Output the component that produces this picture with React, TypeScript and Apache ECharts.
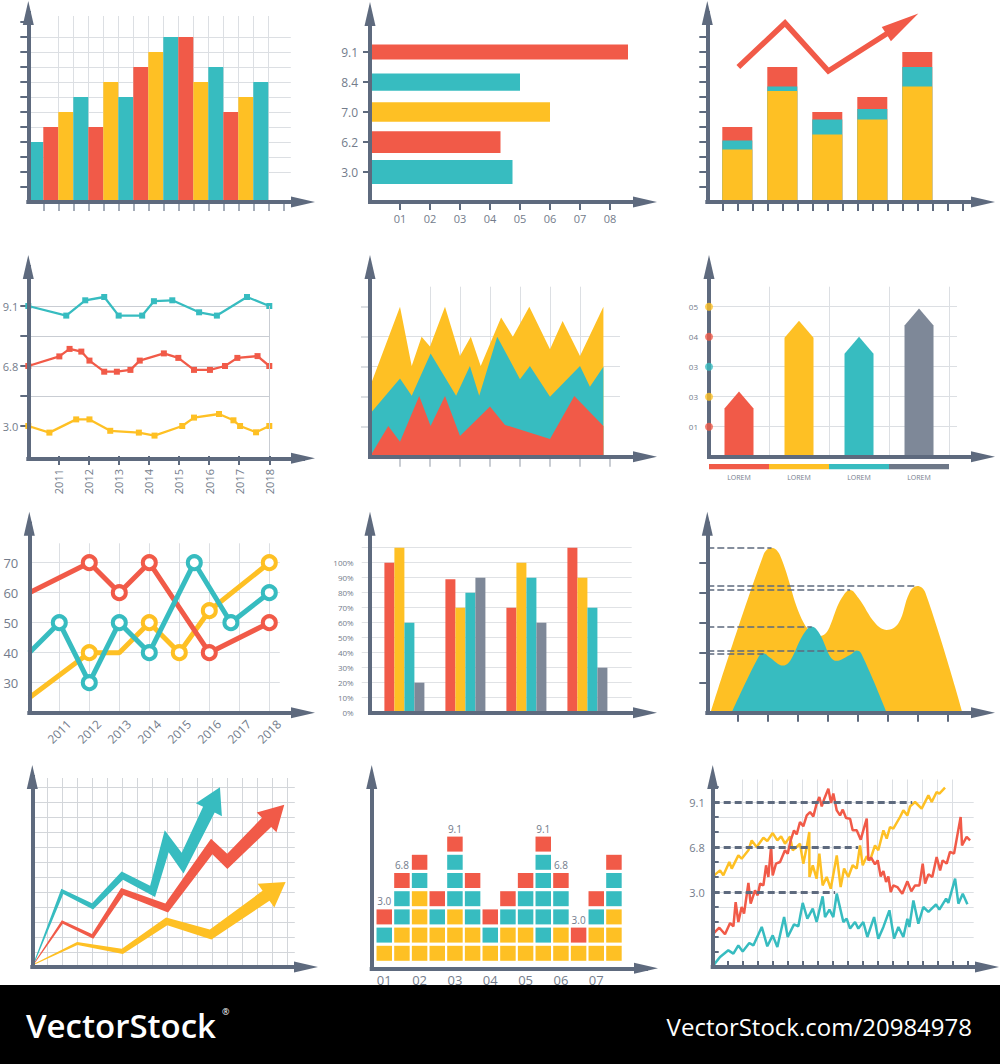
import React, { useEffect, useRef } from "react";
import * as echarts from "echarts";

const RED = "#F15A48";
const YEL = "#FEC024";
const TEAL = "#37BCC0";
const GRAY = "#7E8898";
const AXIS = "#5E6A7E";
const GRIDC = "#DCDFE3";
const TXT = "#737C8B";
const FONT = "Open Sans";

// ---------- Panel 1: bar columns ----------
const p1Values = [4, 5, 6, 7, 5, 8, 7, 9, 10, 11, 11, 8, 9, 6, 7, 8];

// ---------- Panel 2: horizontal bars ----------
const p2Labels = ["3.0", "6.2", "7.0", "8.4", "9.1"];
const p2Values = [4.75, 4.35, 6.0, 5.0, 8.6];
const p2XLabels = ["01", "02", "03", "04", "05", "06", "07", "08"];

// ---------- Panel 3: stacked bars + trend arrow ----------
const p3Pos = [2, 5, 8, 11, 14];
const p3Yellow = [3.5, 7.4, 4.5, 5.5, 7.7];
const p3Teal = [0.6, 0.3, 1.0, 0.7, 1.3];
const p3Red = [0.9, 1.3, 0.5, 0.8, 1.0];
const p3Trend = [[2.07, 9.0], [5.18, 11.93], [8.07, 8.73], [14.07, 12.56]];

// ---------- Panel 4: square-marker lines ----------
const p4Years = [2011, 2012, 2013, 2014, 2015, 2016, 2017, 2018];
const p4LevelLabels = ["", "3.0", "", "6.8", "", "9.1"];
const p4Teal = [[2010, 5.0], [2011.26, 4.68], [2011.89, 5.19], [2012.52, 5.3], [2013.0, 4.68], [2013.78, 4.68], [2014.17, 5.16], [2014.78, 5.19], [2015.67, 4.79], [2016.26, 4.68], [2017.26, 5.3], [2018, 5.0]];
const p4Red = [[2010, 3.0], [2011.03, 3.32], [2011.37, 3.57], [2011.76, 3.48], [2012.03, 3.18], [2012.52, 2.81], [2012.94, 2.81], [2013.39, 2.87], [2013.7, 3.18], [2014.5, 3.42], [2014.98, 3.27], [2015.5, 2.87], [2016.03, 2.87], [2016.53, 3.0], [2016.94, 3.27], [2017.61, 3.33], [2018, 3.0]];
const p4Yellow = [[2010, 1.0], [2010.7, 0.78], [2011.59, 1.22], [2012.03, 1.22], [2012.72, 0.84], [2013.67, 0.78], [2014.19, 0.68], [2015.11, 1.0], [2015.5, 1.28], [2016.33, 1.4], [2016.81, 1.19], [2017.03, 1.0], [2017.56, 0.79], [2018, 1.0]];

// ---------- Panel 5: layered areas ----------
const p5Yellow = [[0.06, 2.5], [1.0, 5.0], [1.39, 3.02], [1.72, 4.0], [2.0, 3.67], [2.5, 5.0], [3.0, 3.36], [3.36, 4.0], [3.69, 3.02], [4.37, 4.64], [4.76, 4.0], [5.31, 5.0], [6.0, 3.58], [6.42, 4.52], [7.0, 3.36], [7.78, 5.0]];
const p5Teal = [[0.06, 1.5], [1.0, 2.61], [1.39, 2.03], [2.02, 3.44], [2.87, 2.03], [3.33, 3.02], [3.64, 2.03], [4.24, 4.0], [5.0, 2.58], [5.33, 3.02], [6.0, 2.0], [7.0, 3.02], [7.33, 2.33], [7.78, 3.0]];
const p5Red = [[0.06, 0.11], [0.61, 1.02], [1.0, 0.5], [1.64, 2.02], [2.02, 1.02], [2.5, 2.02], [3.0, 0.69], [4.0, 1.67], [4.5, 1.06], [6.0, 0.59], [6.81, 2.02], [7.78, 1.02]];

// ---------- Panel 6: arrow columns ----------
const p6Cats = ["LOREM", "LOREM", "LOREM", "LOREM"];
const p6Values = [2.17, 4.53, 4.0, 4.94];
const p6Ticks = ["01", "03", "03", "04", "05"];

// ---------- Panel 7: ring-marker lines ----------
const p7Years = [2011, 2012, 2013, 2014, 2015, 2016, 2017, 2018];
const p7YTicks = [30, 40, 50, 60, 70];
const p7Red = [[2010, 60], [2012, 70], [2013, 60], [2014, 70], [2016, 40], [2018, 50]];
const p7Teal = [[2010, 40], [2011, 50], [2012, 30], [2013, 50], [2014, 40], [2015.5, 70], [2016.72, 50], [2018, 60]];
const p7Yellow = [[2010, 25], [2012, 40], [2013, 40], [2014, 50], [2015, 40], [2016, 54], [2018, 70]];

// ---------- Panel 8: grouped percentage bars ----------
const p8Ticks = [0, 10, 20, 30, 40, 50, 60, 70, 80, 90, 100];
const p8Red = [100, 89, 70, 110];
const p8Yellow = [110, 70, 100, 90];
const p8Teal = [60, 80, 90, 70];
const p8Gray = [20, 90, 60, 30];

// ---------- Panel 9: mountains ----------
const p9Yellow = [[0.11, 0], [1.87, 5.26], [2.14, 5.5], [2.42, 5.26], [3.22, 2.98], [3.78, 2.56], [4.48, 3.82], [4.76, 4.09], [5.04, 3.82], [5.6, 2.98], [5.98, 2.76], [6.37, 2.98], [6.74, 4.0], [7.0, 4.22], [7.27, 4.0], [8.51, 0]];
const p9Teal = [[0.81, 0], [1.7, 1.85], [1.87, 1.98], [2.07, 1.85], [2.51, 1.57], [3.26, 2.7], [3.48, 2.87], [3.7, 2.7], [4.31, 1.73], [4.81, 1.96], [4.98, 2.07], [5.14, 1.96], [5.98, 0]];

// ---------- Panel 10: growth arrows ----------
const p10Teal = [[0.07, 0.16], [2.0, 5.04], [4.02, 4.04], [6.0, 6.09], [8.02, 5.04], [8.96, 8.38], [10.02, 6.93], [12.51, 11.98]];
const p10Red = [[0.07, 0.16], [2.0, 3.0], [4.02, 2.04], [6.0, 5.04], [8.96, 3.93], [11.96, 8.04], [13.0, 7.04], [16.8, 10.82]];
const p10Yellow = [[0.07, 0.16], [3.0, 1.56], [6.0, 1.04], [8.96, 3.04], [11.89, 2.16], [16.89, 5.67]];

// ---------- Panel 11: block columns ----------
const p11Yellow = [1, 2, 4, 2, 3, 2, 1, 2, 2, 1, 2, 1, 2, 3];
const p11Teal = [1, 2, 1, 1, 3, 2, 1, 1, 2, 5, 2, 0, 1, 2];
const p11Top = ["3.0", "6.8", "", "", "9.1", "", "", "", "", "9.1", "6.8", "3.0", "", ""];
const p11XLabels = ["01", "02", "03", "04", "05", "06", "07"];

// ---------- Panel 12: noisy lines ----------
const p12LabelLevels = [5, 8, 11];
const p12LabelTexts = ["3.0", "6.8", "9.1"];
const p12GuideEnds = [8.16, 9.7, 13.3];
const p12Red = [[0.04, 2.22], [0.44, 2.62], [0.82, 2.18], [1.16, 2.93], [1.38, 2.71], [1.53, 4.33], [1.71, 3.0], [1.93, 4.0], [2.09, 3.56], [2.38, 5.6], [2.53, 4.22], [2.82, 5.11], [3.0, 4.78], [3.16, 5.56], [3.38, 5.44], [3.56, 6.78], [3.71, 6.0], [3.89, 8.0], [4.0, 6.11], [4.22, 6.89], [4.49, 7.0], [4.82, 7.78], [5.0, 7.56], [5.2, 8.44], [5.42, 9.11], [5.6, 8.84], [5.82, 9.67], [6.04, 9.38], [6.27, 10.11], [6.49, 10.33], [6.71, 10.04], [6.93, 10.89], [7.11, 11.33], [7.27, 10.71], [7.44, 11.22], [7.71, 11.89], [7.89, 10.93], [8.04, 11.56], [8.27, 10.44], [8.49, 10.11], [8.67, 10.49], [8.89, 9.93], [9.16, 9.89], [9.33, 9.11], [9.6, 9.11], [9.87, 8.49], [10.04, 9.11], [10.27, 9.89], [10.38, 7.11], [10.56, 7.29], [10.82, 6.84], [11.0, 7.11], [11.2, 6.04], [11.38, 6.4], [11.56, 5.67], [11.71, 6.04], [11.87, 5.0], [12.04, 5.44], [12.31, 5.33], [12.64, 4.89], [12.98, 5.71], [13.24, 5.04], [13.49, 5.44], [13.78, 5.44], [14.0, 6.89], [14.16, 5.56], [14.38, 6.18], [14.64, 6.0], [14.93, 7.33], [15.16, 6.44], [15.33, 7.11], [15.6, 6.89], [15.82, 7.67], [16.09, 7.56], [16.53, 10.0], [16.62, 8.11], [16.93, 8.67], [17.16, 8.44]];
const p12Yellow = [[0.09, 6.11], [0.49, 6.44], [0.71, 6.11], [1.11, 7.0], [1.27, 6.56], [1.71, 7.44], [1.93, 7.22], [2.38, 7.78], [2.6, 8.44], [2.93, 8.0], [3.38, 8.62], [3.64, 8.4], [4.0, 8.93], [4.31, 8.44], [4.56, 8.71], [4.82, 8.22], [5.16, 8.71], [5.33, 7.78], [5.6, 8.0], [5.82, 8.22], [6.04, 6.89], [6.27, 8.0], [6.44, 9.0], [6.45, 6.0], [6.67, 6.78], [6.93, 5.89], [7.11, 7.56], [7.33, 5.44], [7.6, 6.0], [7.87, 5.22], [8.27, 7.44], [8.53, 5.33], [8.76, 6.56], [9.04, 6.0], [9.33, 6.78], [9.6, 6.56], [9.82, 8.11], [10.0, 6.78], [10.27, 7.38], [10.49, 7.11], [10.82, 8.11], [11.04, 7.78], [11.38, 9.11], [11.6, 8.56], [11.82, 9.33], [12.04, 9.22], [12.49, 10.0], [12.71, 10.44], [12.98, 10.11], [13.16, 10.71], [13.49, 11.0], [13.93, 10.56], [14.38, 11.44], [14.6, 11.0], [14.93, 11.67], [15.11, 11.56], [15.49, 11.96]];
const p12Teal = [[0.04, 0.11], [0.49, 0.67], [1.04, 1.11], [1.38, 0.89], [1.71, 1.44], [2.0, 1.04], [2.44, 1.6], [2.71, 1.44], [3.27, 2.67], [3.64, 1.38], [4.0, 2.11], [4.31, 1.33], [4.76, 3.33], [5.0, 2.0], [5.42, 2.84], [5.71, 2.71], [6.0, 4.27], [6.31, 3.22], [6.67, 3.89], [6.93, 3.0], [7.33, 4.71], [7.49, 3.33], [7.78, 3.82], [8.04, 3.33], [8.27, 4.89], [8.71, 3.0], [8.93, 3.22], [9.16, 2.56], [9.49, 3.0], [9.71, 2.56], [10.04, 3.0], [10.31, 2.0], [10.76, 3.33], [11.04, 1.89], [11.38, 2.67], [11.78, 3.78], [12.09, 1.89], [12.38, 2.67], [12.71, 2.0], [12.98, 3.22], [13.11, 2.67], [13.38, 4.44], [13.71, 2.89], [14.04, 4.0], [14.38, 3.67], [14.89, 4.18], [15.11, 3.82], [15.56, 4.56], [15.71, 4.27], [16.16, 5.89], [16.38, 4.22], [16.67, 4.89], [16.98, 4.18]];

// ---------- helpers ----------
const AL = 24;
const range = (a: number, b: number, s = 1) => {
  const r: number[] = [];
  for (let v = a; v <= b + 1e-9; v += s) r.push(v);
  return r;
};
const ticks = (vals: number[], len: number, color: string, inside = false) => ({
  show: true, customValues: vals, length: len, inside, lineStyle: { color, width: 2 },
});
const split = (color: string) => ({
  show: true, showMinLine: false, showMaxLine: false, lineStyle: { color, width: 1 },
});
const labels = (vals: number[], fmt: (v: number) => string, size: number, margin: number, extra: any = {}) => ({
  show: true, customValues: vals, formatter: (v: any) => fmt(Number(v)), fontSize: size,
  fontFamily: FONT, color: TXT, margin, ...extra,
});

type ArrowStyle = { color: string; w0: number; w1: number; headW: number; headL: number };

function arrowShape(pts: number[][], st: ArrowStyle, api: any) {
  const px = pts.map((p) => api.coord(p));
  const n = px.length;
  const tip = px[n - 1];
  const prev = px[n - 2];
  const L = Math.hypot(tip[0] - prev[0], tip[1] - prev[1]) || 1;
  const ux = (tip[0] - prev[0]) / L;
  const uy = (tip[1] - prev[1]) / L;
  const base = [tip[0] - ux * st.headL, tip[1] - uy * st.headL];
  const shaft = px.slice(0, n - 1).concat([base]);
  const segN: number[][] = [];
  const cum = [0];
  for (let i = 0; i < shaft.length - 1; i++) {
    const sx = shaft[i + 1][0] - shaft[i][0];
    const sy = shaft[i + 1][1] - shaft[i][1];
    const sl = Math.hypot(sx, sy) || 1;
    segN.push([-sy / sl, sx / sl]);
    cum.push(cum[i] + sl);
  }
  const total = cum[cum.length - 1] || 1;
  const left: number[][] = [];
  const right: number[][] = [];
  for (let i = 0; i < shaft.length; i++) {
    const w = st.w0 + ((st.w1 - st.w0) * cum[i]) / total;
    let nx: number, ny: number, scale = 1;
    if (i === 0) { nx = segN[0][0]; ny = segN[0][1]; }
    else if (i === shaft.length - 1) { nx = segN[segN.length - 1][0]; ny = segN[segN.length - 1][1]; }
    else {
      const a = segN[i - 1], b = segN[i];
      nx = a[0] + b[0]; ny = a[1] + b[1];
      const l = Math.hypot(nx, ny) || 1;
      nx /= l; ny /= l;
      const d = nx * a[0] + ny * a[1];
      scale = Math.min(1 / Math.max(d, 0.25), 4);
    }
    const h = (w / 2) * scale;
    left.push([shaft[i][0] + nx * h, shaft[i][1] + ny * h]);
    right.push([shaft[i][0] - nx * h, shaft[i][1] - ny * h]);
  }
  const nl = segN[segN.length - 1];
  const hl = [base[0] + (nl[0] * st.headW) / 2, base[1] + (nl[1] * st.headW) / 2];
  const hr = [base[0] - (nl[0] * st.headW) / 2, base[1] - (nl[1] * st.headW) / 2];
  const points = [...left, hl, tip, hr, ...right.reverse()];
  return { type: "polygon", shape: { points }, style: { fill: st.color } };
}

function buildOption() {
  const grid: any[] = [];
  const xAxis: any[] = [];
  const yAxis: any[] = [];
  const series: any[] = [];
  const base = () => ({
    type: "value",
    axisLine: { show: false, onZero: false },
    axisTick: { show: false },
    axisLabel: { show: false },
    splitLine: { show: false },
    z: 1,
  });
  const add = (box: number[], xa: any, ya: any) => {
    const i = grid.length;
    grid.push({ left: box[0], top: box[1], width: box[2], height: box[3], containLabel: false, outerBoundsMode: "none" });
    xAxis.push({ gridIndex: i, ...base(), ...xa });
    yAxis.push({ gridIndex: i, ...base(), ...ya });
    return i;
  };
  const arrowLine = () => ({
    show: true, onZero: false, symbol: ["none", "triangle"], symbolSize: [11, AL],
    lineStyle: { color: AXIS, width: 4, cap: "square" },
  });
  const frame = (ox: number, oy: number, xt: number, yt: number) => {
    add([ox, yt + AL / 2, xt - AL / 2 - ox, oy - yt - AL / 2],
      { min: 0, max: 1, axisLine: arrowLine(), z: 10 },
      { min: 0, max: 1, axisLine: arrowLine(), z: 10 });
  };
  const on = (g: number) => ({ xAxisIndex: g, yAxisIndex: g });

  // ---- Panel 1
  frame(28.3, 202, 315, 1);
  let g = add([28.3, 16, 262.5, 186],
    { min: 0, max: 17.5, interval: 1, splitLine: split(GRIDC), axisTick: ticks(range(1, 17), 9, "#A5ACB7") },
    { min: 0, max: 12.4, interval: 1, splitLine: split(GRIDC), axisTick: ticks(range(1, 12), 8, AXIS) });
  series.push({
    type: "bar", ...on(g), barWidth: 15,
    data: p1Values.map((v, i) => ({ value: [i + 0.5, v], itemStyle: { color: [TEAL, RED, YEL][i % 3] } })),
  });

  // ---- Panel 2
  frame(370, 202, 657, 2);
  g = add([370, 22, 285, 180],
    { min: 0, max: 9.5, interval: 1, axisTick: ticks(range(1, 8), 8, AXIS), axisLabel: labels(range(1, 8), (v) => p2XLabels[v - 1], 11, 11) },
    { min: 0, max: 6, interval: 1, axisTick: ticks(range(1, 5), 7, AXIS), axisLabel: labels(range(1, 5), (v) => p2Labels[v - 1], 12, 12) });
  const p2Colors = [TEAL, RED, YEL, TEAL, RED];
  series.push({
    type: "custom", ...on(g), clip: false,
    data: p2Values.map((v, i) => [v, i + 1]),
    renderItem: (params: any, api: any) => {
      const i = params.dataIndex;
      const y = api.value(1);
      const p0 = api.coord([0, y]);
      const p1 = api.coord([api.value(0), y]);
      const t = 24 - i * 2.25;
      return { type: "rect", shape: { x: p0[0], y: p0[1] - t / 2, width: p1[0] - p0[0], height: t }, style: { fill: p2Colors[i] } };
    },
  });

  // ---- Panel 3 (stack drawn as overlapping cumulative bars: red total, teal, yellow)
  frame(707.3, 202, 995, 1);
  g = add([707.3, 7, 262.5, 195],
    { min: 0, max: 17.5, interval: 1, axisTick: ticks(range(1, 17), 9, AXIS) },
    { min: 0, max: 13, interval: 1, axisTick: ticks(range(1, 11), 8, AXIS) });
  const p3Cum1 = p3Yellow;
  const p3Cum2 = p3Yellow.map((v, i) => v + p3Teal[i]);
  const p3Cum3 = p3Cum2.map((v, i) => v + p3Red[i]);
  [[p3Cum3, RED], [p3Cum2, TEAL], [p3Cum1, YEL]].forEach(([arr, c]: any) => {
    series.push({
      type: "bar", ...on(g), barWidth: 30, barGap: "-100%",
      itemStyle: { color: c },
      data: arr.map((v: number, i: number) => [p3Pos[i], v]),
    });
  });
  series.push({
    type: "custom", ...on(g), clip: false, z: 5, data: [[0, 0]],
    renderItem: (_p: any, api: any) => arrowShape(p3Trend, { color: RED, w0: 5.5, w1: 5.5, headW: 17, headL: 38 }, api),
  });

  // ---- Panel 4
  frame(28.3, 458.3, 315, 255);
  g = add([28.3, 306, 241, 150],
    { min: 2010, max: 2018, interval: 1, axisTick: ticks(p4Years, 9, AXIS), axisLabel: labels(p4Years, (v) => String(v), 11, 13, { rotate: 90 }) },
    { min: 0, max: 5, interval: 1, splitLine: { show: true, showMinLine: false, lineStyle: { color: "#C9CDD3", width: 1 } },
      axisTick: ticks(range(1, 5), 8, AXIS), axisLabel: labels(range(1, 5), (v) => p4LevelLabels[v], 11, 10) });
  const p4Line = (data: number[][], color: string, extra: any = {}) => ({
    type: "line", ...on(g), data, symbol: "rect", symbolSize: 6, showSymbol: true,
    lineStyle: { width: 2.3, color }, itemStyle: { color }, clip: false, ...extra,
  });
  series.push(p4Line(p4Teal, TEAL, {
    markLine: { silent: true, symbol: ["none", "none"], label: { show: false },
      lineStyle: { color: "#C9CDD3", width: 1, type: "solid" }, data: [{ xAxis: 2018 }] },
  }));
  series.push(p4Line(p4Red, RED));
  series.push(p4Line(p4Yellow, YEL));

  // ---- Panel 5
  frame(370, 456.7, 657, 255);
  g = add([370, 286.7, 250, 170],
    { min: 0, max: 8.333, interval: 1, splitLine: split(GRIDC), axisTick: ticks(range(1, 8), 10, "#C9CDD3") },
    { min: 0, max: 5.667, interval: 1, splitLine: split(GRIDC), axisTick: ticks(range(1, 5), 9, GRIDC) });
  [[p5Yellow, YEL], [p5Teal, TEAL], [p5Red, RED]].forEach(([d, c]: any) => {
    series.push({
      type: "line", ...on(g), data: d, symbol: "none", showSymbol: false,
      lineStyle: { width: 0, color: c }, areaStyle: { color: c, opacity: 1 }, itemStyle: { color: c },
    });
  });

  // ---- Panel 6
  frame(709, 456.7, 995, 255);
  g = add([709, 286.7, 248, 170],
    { min: 0, max: 4.133, interval: 1, splitLine: split(GRIDC) },
    { min: 0, max: 5.667, interval: 1, splitLine: split(GRIDC), axisLabel: labels(range(1, 5), (v) => p6Ticks[v - 1], 8, 11) });
  const p6Colors = [RED, YEL, TEAL, GRAY];
  series.push({
    type: "custom", ...on(g), clip: false,
    data: p6Values.map((v, i) => [i + 0.5, v]),
    renderItem: (params: any, api: any) => {
      const x = api.value(0);
      const tip = api.coord([x, api.value(1)]);
      const b = api.coord([x, 0]);
      const w = 29, hh = 17;
      const pts = [[tip[0] - w / 2, b[1]], [tip[0] - w / 2, tip[1] + hh], [tip[0], tip[1]], [tip[0] + w / 2, tip[1] + hh], [tip[0] + w / 2, b[1]]];
      return { type: "polygon", shape: { points: pts }, style: { fill: p6Colors[params.dataIndex] } };
    },
  });
  const p6Dots = [RED, YEL, TEAL, RED, YEL];
  series.push({
    type: "scatter", ...on(g), symbolSize: 8, z: 20, clip: false,
    data: p6Ticks.map((_t, i) => ({ value: [0, i + 1], itemStyle: { color: p6Dots[i] } })),
  });
  const g6b = add([709, 464, 240, 5.3],
    { type: "category", data: p6Cats, axisLabel: { show: true, interval: 0, fontSize: 7, fontFamily: FONT, color: TXT, margin: 5 } },
    { min: 0, max: 1 });
  series.push({
    type: "bar", ...on(g6b), barCategoryGap: "0%",
    data: p6Cats.map((_c, i) => ({ value: 1, itemStyle: { color: [RED, YEL, TEAL, "#6E7888"][i] } })),
  });

  // ---- Panel 7
  frame(29.3, 712.7, 315, 511.7);
  g = add([29.3, 543.3, 250.5, 169.4],
    { min: 2010, max: 2018.35, interval: 1, splitLine: split(GRIDC),
      axisLabel: labels(p7Years, (v) => String(v), 12, 19, { rotate: 45, align: "center", verticalAlign: "middle" }) },
    { min: 20, max: 76.47, interval: 10, splitLine: split(GRIDC), axisLabel: labels(p7YTicks, (v) => String(v), 13, 11) });
  const p7Line = (pts: number[][], color: string, skip: (x: number, i: number) => boolean) => ({
    type: "line", ...on(g), clip: false, showSymbol: true,
    lineStyle: { width: 5, color }, symbolSize: 13,
    itemStyle: { color: "#ffffff", borderColor: color, borderWidth: 4 },
    data: pts.map((p, i) => ({ value: p, symbol: skip(p[0], i) ? "none" : "circle" })),
  });
  series.push(p7Line(p7Yellow, YEL, (x, i) => i === 0 || x === 2013));
  series.push(p7Line(p7Red, RED, (_x, i) => i === 0));
  series.push(p7Line(p7Teal, TEAL, (_x, i) => i === 0));

  // ---- Panel 8
  frame(370, 712.7, 657, 511.7);
  g = add([361.7, 544.7, 270, 168],
    { min: 0.3, max: 4.726 },
    { min: 0, max: 112, interval: 10, splitLine: split("#E0E2E5"), axisLabel: labels(p8Ticks, (v) => v + "%", 8, 8) });
  [p8Red, p8Yellow, p8Teal, p8Gray].forEach((arr, k) => {
    series.push({
      type: "bar", ...on(g), barWidth: 10, barGap: "0%",
      itemStyle: { color: [RED, YEL, TEAL, GRAY][k] },
      data: arr.map((v, i) => [i + 1, v]),
    });
  });

  // ---- Panel 9
  frame(707.3, 712.7, 995, 511.7);
  g = add([707.3, 532.7, 270, 180],
    { min: 0, max: 9, interval: 1, axisTick: ticks(range(1, 8), 9, AXIS) },
    { min: 0, max: 6, interval: 1, axisTick: ticks(range(1, 5), 8, AXIS) });
  const peaks = (d: number[][]) => d.filter((p, i) => i > 0 && i < d.length - 1 && p[1] > d[i - 1][1] && p[1] > d[i + 1][1]);
  const p9Peaks = [...peaks(p9Yellow), ...peaks(p9Teal)];
  series.push({
    type: "line", ...on(g), data: p9Yellow, smooth: 0.4, symbol: "none", showSymbol: false,
    lineStyle: { width: 0, color: YEL }, areaStyle: { color: YEL, opacity: 1 }, itemStyle: { color: YEL },
  });
  series.push({
    type: "line", ...on(g), data: p9Teal, smooth: 0.4, symbol: "none", showSymbol: false,
    lineStyle: { width: 0, color: TEAL }, areaStyle: { color: TEAL, opacity: 1 }, itemStyle: { color: TEAL },
    markLine: {
      silent: true, symbol: ["none", "none"], label: { show: false },
      lineStyle: { color: AXIS, width: 1.6, type: [7, 3] },
      data: p9Peaks.map((p) => [{ coord: [0, p[1]] }, { coord: [p[0], p[1]] }]),
    },
  });

  // ---- Panel 10
  frame(32.3, 967, 318, 765);
  g = add([32.3, 778, 262.5, 189],
    { min: 0, max: 17.5, interval: 1, splitLine: split("#D3D6DA") },
    { min: 0, max: 12.6, interval: 1, splitLine: split("#D3D6DA") });
  const p10Arrows: [number[][], ArrowStyle][] = [
    [p10Yellow, { color: YEL, w0: 0.8, w1: 12, headW: 29, headL: 24 }],
    [p10Red, { color: RED, w0: 0.8, w1: 13, headW: 28, headL: 25 }],
    [p10Teal, { color: TEAL, w0: 0.8, w1: 13, headW: 29, headL: 25 }],
  ];
  series.push({
    type: "custom", ...on(g), clip: false,
    data: p10Arrows.map((_a, i) => [i, 0]),
    renderItem: (params: any, api: any) => {
      const [pts, st] = p10Arrows[params.dataIndex];
      return arrowShape(pts, st, api);
    },
  });

  // ---- Panel 11
  frame(371.7, 968.3, 658, 765);
  g = add([366.6, 789.5, 265, 182],
    { min: 0, max: 15, interval: 1, axisLabel: labels([1, 3, 5, 7, 9, 11, 13], (v) => p11XLabels[(v - 1) / 2], 13, 2) },
    { min: 0, max: 10, interval: 1 });
  const yCells: number[][] = [];
  const tCells: number[][] = [];
  const rCells: number[][] = [];
  p11Yellow.forEach((ny, c) => {
    for (let r = 1; r <= ny; r++) yCells.push([c + 1, r]);
    for (let r = 1; r <= p11Teal[c]; r++) tCells.push([c + 1, ny + r]);
    rCells.push([c + 1, ny + p11Teal[c] + 1]);
  });
  const cellSeries = (data: number[][], color: string, extra: any = {}) => ({
    type: "scatter", ...on(g), data, symbol: "rect", symbolSize: [15.5, 15], clip: false,
    itemStyle: { color, opacity: 1 }, ...extra,
  });
  series.push(cellSeries(yCells, YEL));
  series.push(cellSeries(tCells, TEAL));
  series.push(cellSeries(rCells, RED, {
    label: { show: true, position: "top", distance: 3, formatter: (p: any) => p11Top[p.dataIndex], fontSize: 10, fontFamily: FONT, color: TXT },
  }));

  // ---- Panel 12
  frame(712.7, 967, 999, 765);
  g = add([712.7, 779.5, 261, 187.5],
    { min: 0, max: 17.4, interval: 1, splitLine: split(GRIDC), axisTick: ticks(range(1, 17), 6, AXIS, true) },
    { min: 0, max: 12.5, interval: 1, splitLine: split(GRIDC), axisTick: ticks(range(1, 12), 6, AXIS, true),
      axisLabel: labels(p12LabelLevels, (v) => p12LabelTexts[p12LabelLevels.indexOf(v)], 11, 8) });
  const p12Line = (data: number[][], color: string, extra: any = {}) => ({
    type: "line", ...on(g), data, symbol: "none", showSymbol: false, clip: false,
    lineStyle: { width: 2.5, color }, itemStyle: { color }, ...extra,
  });
  series.push(p12Line(p12Teal, TEAL, {
    markLine: {
      silent: true, symbol: ["none", "none"], label: { show: false },
      lineStyle: { color: AXIS, width: 3, type: [7, 4] },
      data: p12LabelLevels.map((lv, i) => [{ coord: [0, lv] }, { coord: [p12GuideEnds[i], lv] }]),
    },
  }));
  series.push(p12Line(p12Yellow, YEL));
  series.push(p12Line(p12Red, RED));

  const graphic = [
    { type: "rect", shape: { x: 0, y: 985, width: 1000, height: 79 }, style: { fill: "#000000" }, z: 100 },
    { type: "text", x: 26, y: 1025, z: 101,
      style: { text: "VectorStock", fill: "#ffffff", fontSize: 33, fontWeight: 600, fontFamily: FONT, verticalAlign: "middle", textVerticalAlign: "middle" } },
    { type: "text", x: 222, y: 1011, z: 101,
      style: { text: "®", fill: "#ffffff", fontSize: 9, fontFamily: FONT, verticalAlign: "middle", textVerticalAlign: "middle" } },
    { type: "text", x: 972, y: 1026, z: 101,
      style: { text: "VectorStock.com/20984978", fill: "#ffffff", fontSize: 24, fontFamily: FONT,
        align: "right", textAlign: "right", verticalAlign: "middle", textVerticalAlign: "middle" } },
  ];

  return {
    animation: false,
    backgroundColor: "#ffffff",
    textStyle: { fontFamily: FONT },
    grid, xAxis, yAxis, series, graphic,
  };
}

export default function App() {
  const ref = useRef<HTMLDivElement>(null);
  useEffect(() => {
    document.body.style.margin = "0";
    const chart = echarts.init(ref.current as HTMLDivElement, null, { renderer: "svg" });
    chart.setOption(buildOption() as any);
    return () => chart.dispose();
  }, []);
  return <div ref={ref} style={{ width: 1000, height: 1064, background: "#ffffff" }} />;
}
